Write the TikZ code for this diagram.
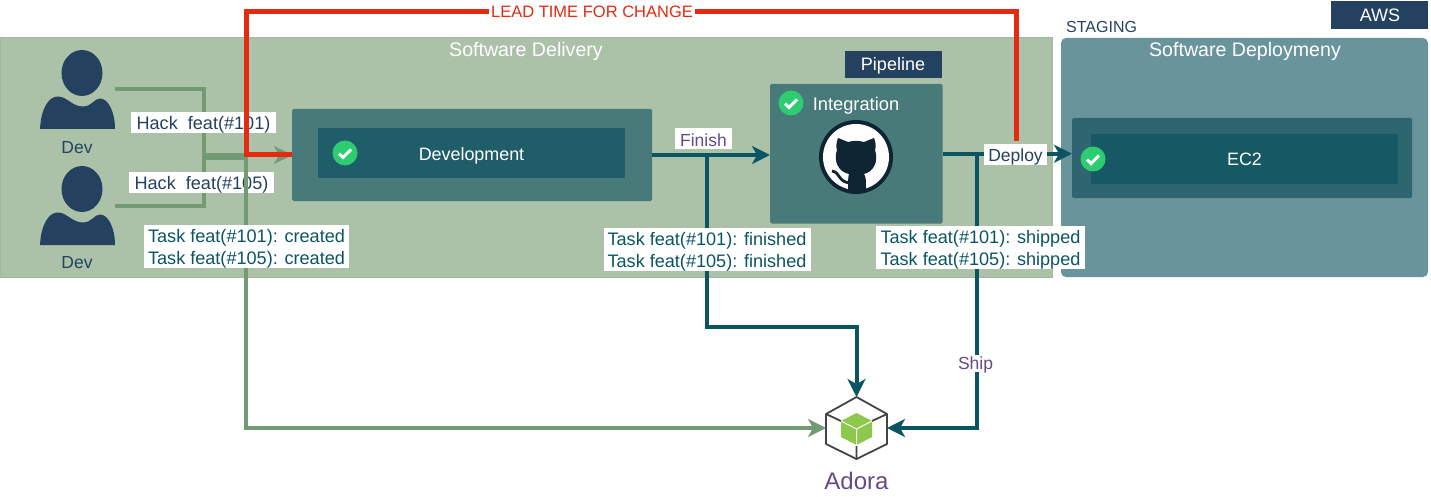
\documentclass[tikz,border=0pt]{standalone}
\usepackage{fontspec}
\setmainfont{Liberation Sans}
\usetikzlibrary{arrows.meta}
\definecolor{cDelivery}{HTML}{ABC2A9}
\definecolor{cDeliveryB}{HTML}{A0B99F}
\definecolor{cDeploy}{HTML}{6A949C}
\definecolor{cStageO}{HTML}{477A78}
\definecolor{cStageI}{HTML}{1F5D68}
\definecolor{cEcO}{HTML}{2D6670}
\definecolor{cEcI}{HTML}{165863}
\definecolor{cNavy}{HTML}{24425F}
\definecolor{cTeal}{HTML}{0B5563}
\definecolor{cGreen}{HTML}{729A73}
\definecolor{cRed}{HTML}{E62A10}
\definecolor{cPurple}{HTML}{644A87}
\definecolor{cCheck}{HTML}{2ECC71}
\definecolor{cCat}{HTML}{0F2433}
\definecolor{cCube}{HTML}{8CC84B}
\definecolor{cHex}{HTML}{444444}
\newcommand\dn[1]{\raisebox{-2.2pt}[\height][\depth]{#1}}
\tikzset{
  x=1pt,y=-1pt,
  box/.style={draw=none,inner sep=0pt,outer sep=0pt,anchor=north west},
  title/.style={text=white,font=\fontsize{19.6}{24}\selectfont,inner sep=0pt},
  inlabel/.style={text=white,font=\fontsize{17.9}{21}\selectfont,inner sep=0pt},
  tag/.style={fill=white,inner sep=0pt,align=center,font=\fontsize{17.5}{22}\selectfont},
  wide tag/.style={tag,font=\fontsize{18.1}{22}\selectfont},
  green line/.style={draw=cGreen,line width=4pt},
  teal line/.style={draw=cTeal,line width=4pt},
  red line/.style={draw=cRed,line width=5pt},
  tip/.style={-{Stealth[length=18pt,width=18pt,inset=5pt]}},
  check/.pic={
    \fill[cCheck] (0,0) circle[radius=12.5];
    \draw[white,line width=3pt] (-6,0.5) -- (-2,4.5) -- (6,-3.5);
  },
  person/.pic={
    \fill[cNavy] (0,-16.5) ellipse[x radius=20.5,y radius=23];
    \fill[cNavy] (-42,39.5) .. controls (-41,20) and (-34,7) .. (-24,7)
      .. controls (-15,7) and (-10,17) .. (1,17)
      .. controls (10,17) and (12,9) .. (18,9)
      .. controls (26,9) and (33,22) .. (33,39.5) -- cycle;
  },
}
\begin{document}
\begin{tikzpicture}
\useasboundingbox (0,0) rectangle (1431,497);

% containers
\node[box,fill=cDelivery,draw=cDeliveryB,line width=1pt,minimum width=1052pt,minimum height=239pt] (delivery) at (0,38) {};
\node[box,fill=cDeploy,rounded corners=5pt,minimum width=367pt,minimum height=239pt] (deployment) at (1061,38) {};
\node[title] (deliveryT) at (526,51) {Software Delivery};
\node[title] (deploymentT) at (1245,51) {Software Deploymeny};
\node[text=cNavy,font=\fontsize{16}{18}\selectfont,inner sep=0pt,anchor=west] (staging) at (1066,26.5) {STAGING};
\node[box,fill=cNavy,minimum width=97pt,minimum height=27.5pt] (aws) at (1331,1.5) {};
\node[title,font=\fontsize{18}{20}\selectfont] (awsT) at (1380,15.5) {AWS};
\node[box,fill=cNavy,minimum width=97pt,minimum height=27.5pt] (pipe) at (845,51) {};
\node[title,font=\fontsize{18}{20}\selectfont] (pipeT) at (893,65.5) {Pipeline};

% stages
\node[box,fill=cStageO,rounded corners=1.5pt,minimum width=360pt,minimum height=92pt] (devbox) at (292,109) {};
\node[box,fill=cStageI,minimum width=307pt,minimum height=50pt] (devin) at (318,128) {};
\node[inlabel] (devT) at (471.5,156) {Development};
\pic at (345,153) {check};

\node[box,fill=cStageO,rounded corners=1.5pt,minimum width=172.5pt,minimum height=139.5pt] (integ) at (770,84) {};
\node[inlabel,font=\fontsize{18.3}{21}\selectfont] (integT) at (856,105.5) {Integration};
\pic at (791,103) {check};

\node[box,fill=cEcO,rounded corners=1.5pt,minimum width=340pt,minimum height=80pt] (ec2) at (1072,118) {};
\node[box,fill=cEcI,minimum width=307pt,minimum height=50pt] (ec2in) at (1091,134) {};
\node[inlabel] (ec2T) at (1244.5,159.5) {EC2};
\pic at (1093,159) {check};

% github mark
\fill[cCat] (856,157) circle[radius=37];
\fill[white] (856,157) circle[radius=33];
\fill[cCat] (838,138) -- (848,142) .. controls (853,140.5) and (859,140.5) .. (864,142) -- (874,138)
  .. controls (876,143) and (876,147) .. (875,150)
  .. controls (879,162) and (873,172) .. (864,174)
  .. controls (866,177) and (866,180) .. (866,192) -- (848,192)
  .. controls (848,182) and (848,177) .. (849,174)
  .. controls (839,172) and (833,162) .. (837,150)
  .. controls (836,147) and (836,143) .. (838,138) -- cycle;
\draw[cCat,line width=2.8pt] (832,171) .. controls (840,172) and (838,182) .. (850,183);

% persons
\node[box,minimum width=75pt,minimum height=79pt] (dev1) at (40,50) {};
\node[box,minimum width=75pt,minimum height=79pt] (dev2) at (40,166) {};
\pic at (82,89.5) {person};
\pic at (82,205.5) {person};
\node[text=cNavy,font=\fontsize{17.5}{20}\selectfont,inner sep=0pt] (dev1T) at (77,148) {Dev};
\node[text=cNavy,font=\fontsize{17.5}{20}\selectfont,inner sep=0pt] (dev2T) at (77,263) {Dev};

% adora
\node[box,minimum width=61pt,minimum height=62pt] (adora) at (826,397) {};
\draw[cHex,line width=1.8pt,line join=round] (856.5,397) -- (887,414) -- (887,444) -- (856.5,459) -- (826,444) -- (826,414) -- cycle;
\draw[cHex,line width=1.8pt] (826,414) -- (841,421) (887,414) -- (872,421) (856.5,459) -- (856.5,446);
\fill[cCube] (856.5,413) -- (872,421) -- (872,437) -- (856.5,445) -- (841,437) -- (841,421) -- cycle;
\draw[white,line width=1pt] (841,421) -- (856.5,429) -- (872,421) (856.5,429) -- (856.5,445);
\node[text=cPurple,font=\fontsize{24}{28}\selectfont,inner sep=0pt] (adoraT) at (856.5,481) {Adora};

% connectors: hack
\coordinate (j1) at (204,155);
\coordinate (j2) at (246,155);
\coordinate (j3) at (246,428);
\coordinate (redTopL) at (246,12);
\coordinate (redStart) at (1016.5,141.5);
\coordinate (t1) at (206,156.3);
\coordinate (t2) at (246,156.3);
\draw[green line,line join=miter] (dev1.east) -| (j1);
\draw[green line,line join=miter] (dev2.east) -| (j1);
\draw[draw=cGreen,line width=6.5pt] (t1) -- (t2);
\draw[green line,tip] (j1) -- (devbox.west);

\node[wide tag,text=cNavy,minimum width=145pt,minimum height=21pt] (hack1) at (203.5,122.5) {\dn{Hack\ \ feat(\#101)}};
\node[wide tag,text=cNavy,minimum width=145pt,minimum height=21pt] (hack2) at (201.5,182.5) {\dn{Hack\ \ feat(\#105)}};

\draw[green line,tip] (j2) -- (j3) -- (adora.west |- j3);

% connectors: teal
\coordinate (f1) at (707,154.5);
\coordinate (f2) at (707,327);
\coordinate (s1) at (977,153.5);
\coordinate (s2) at (977,428);
\draw[teal line,tip] (devbox.east) -- (devbox.east -| integ.west);
\draw[teal line,tip] (f1) -- (f2) -| (adora.north);
\draw[teal line,tip] (integ.east) -- (integ.east -| ec2.west);
\draw[teal line,tip] (s1) -- (s2) -- (adora.east |- s2);

% lead time
\draw[red line,line join=miter] (redStart) |- (redTopL) |- (devbox.west);
\node[fill=white,text=cRed,inner sep=0pt,minimum height=17pt,minimum width=206pt,font=\fontsize{16.5}{20}\selectfont] (lead) at (592,12) {LEAD TIME FOR CHANGE};

% labels
\node[wide tag,text=cTeal,minimum width=205pt,minimum height=43pt] (created) at (246.5,246.5) {\dn{Task feat(\#101): created}\\\dn{Task feat(\#105): created}};
\node[wide tag,text=cTeal,minimum width=207pt,minimum height=43pt] (finished) at (707,249.5) {\dn{Task feat(\#101): finished}\\\dn{Task feat(\#105): finished}};
\node[wide tag,text=cTeal,minimum width=209pt,minimum height=43pt] (shipped) at (980.5,247.5) {\dn{Task feat(\#101): shipped}\\\dn{Task feat(\#105): shipped}};
\node[tag,text=cPurple,minimum width=57pt,minimum height=21pt] (finish) at (703.5,138.5) {\dn{Finish}};
\node[tag,text=cNavy,minimum width=63pt,minimum height=21pt] (deploy) at (1015.5,154.5) {\dn{Deploy}};
\node[tag,text=cPurple,minimum width=35pt,minimum height=17pt] (ship) at (975.5,363) {\dn{Ship}};
\end{tikzpicture}
\end{document}
